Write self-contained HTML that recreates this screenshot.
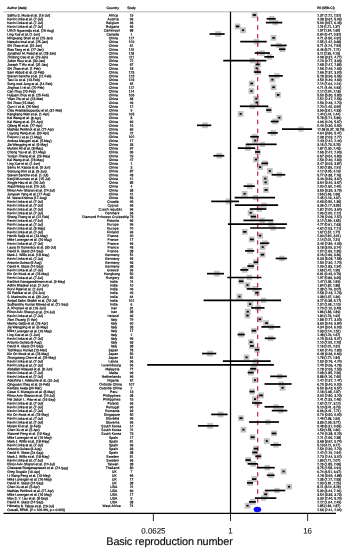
<!DOCTYPE html>
<html lang="en"><head><meta charset="utf-8"><title>Forest plot – Basic reproduction number</title>
<style>
html,body{margin:0;padding:0;background:#fff;}
body{width:346px;height:550px;overflow:hidden;}
svg{display:block;font-family:"Liberation Sans",Arial,Helvetica,sans-serif;text-rendering:geometricPrecision;}
.t{font-size:3.33px;fill:#111;stroke:#111;stroke-width:0.19px;}
.c{text-anchor:middle;}
.k{text-anchor:middle;letter-spacing:0.035em;}
.tk{font-size:7.9px;fill:#111;text-anchor:middle;stroke:#111;stroke-width:0.1px;}
.ttl{font-size:10.85px;fill:#111;stroke:#111;stroke-width:0.18px;}
.ci{stroke:#000;stroke-width:1.7;}
.bx{fill:#c2c2c2;}
</style></head><body>
<svg width="346" height="550" viewBox="0 0 346 550">
<rect width="346" height="550" fill="#fff"/>
<g class="t" transform="rotate(0.06)">
<text x="7.31" y="9.09">Author (date)</text>
<text class="k" x="112.79" y="8.98">Country</text>
<text class="c" x="131.51" y="8.96">Study</text>
<text x="317.31" y="8.77" textLength="17.3">R0 (95% CI)</text>
</g>
<line x1="3.5" x2="336" y1="11.8" y2="11.8" stroke="#9e9e9e" stroke-width="0.75"/>
<g class="bx">
<rect x="251.62" y="12.12" width="5.76" height="5.76"/>
<rect x="268.79" y="16.01" width="5.58" height="5.58"/>
<rect x="272.59" y="19.93" width="5.36" height="5.36"/>
<rect x="234.7" y="23.52" width="5.78" height="5.78"/>
<rect x="240.15" y="27.32" width="5.79" height="5.79"/>
<rect x="215.21" y="31.15" width="5.75" height="5.75"/>
<rect x="270.74" y="34.96" width="5.74" height="5.74"/>
<rect x="253.81" y="38.9" width="5.45" height="5.45"/>
<rect x="276.31" y="42.78" width="5.29" height="5.29"/>
<rect x="279.61" y="46.45" width="5.57" height="5.57"/>
<rect x="259.29" y="50.27" width="5.53" height="5.53"/>
<rect x="266.82" y="54.05" width="5.59" height="5.59"/>
<rect x="249.75" y="57.97" width="5.36" height="5.36"/>
<rect x="255.05" y="61.58" width="5.74" height="5.74"/>
<rect x="253.76" y="65.37" width="5.78" height="5.78"/>
<rect x="254.86" y="69.21" width="5.7" height="5.7"/>
<rect x="274.08" y="73.16" width="5.4" height="5.4"/>
<rect x="269.45" y="76.78" width="5.77" height="5.77"/>
<rect x="248.78" y="80.59" width="5.77" height="5.77"/>
<rect x="270.74" y="84.41" width="5.73" height="5.73"/>
<rect x="248.51" y="88.19" width="5.78" height="5.78"/>
<rect x="275.06" y="92.02" width="5.72" height="5.72"/>
<rect x="253.32" y="95.79" width="5.79" height="5.79"/>
<rect x="253.76" y="99.61" width="5.76" height="5.76"/>
<rect x="249.72" y="103.59" width="5.42" height="5.42"/>
<rect x="266.15" y="107.26" width="5.69" height="5.69"/>
<rect x="237.74" y="111" width="5.8" height="5.8"/>
<rect x="276.41" y="114.82" width="5.77" height="5.77"/>
<rect x="272.25" y="118.72" width="5.58" height="5.58"/>
<rect x="202.13" y="122.43" width="5.77" height="5.77"/>
<rect x="298.33" y="126.52" width="5.2" height="5.2"/>
<rect x="270.42" y="130.15" width="5.54" height="5.54"/>
<rect x="251.78" y="133.88" width="5.69" height="5.69"/>
<rect x="252.3" y="137.63" width="5.8" height="5.8"/>
<rect x="259.87" y="141.71" width="5.26" height="5.26"/>
<rect x="245.1" y="145.33" width="5.63" height="5.63"/>
<rect x="254.85" y="149.08" width="5.73" height="5.73"/>
<rect x="216.48" y="152.87" width="5.76" height="5.76"/>
<rect x="253.1" y="156.67" width="5.77" height="5.77"/>
<rect x="262.27" y="160.52" width="5.67" height="5.67"/>
<rect x="257.22" y="164.26" width="5.8" height="5.8"/>
<rect x="266.99" y="168.07" width="5.78" height="5.78"/>
<rect x="276.56" y="172.08" width="5.37" height="5.37"/>
<rect x="262.38" y="175.69" width="5.76" height="5.76"/>
<rect x="262.78" y="179.5" width="5.76" height="5.76"/>
<rect x="246.94" y="183.34" width="5.68" height="5.68"/>
<rect x="263.18" y="187.11" width="5.74" height="5.74"/>
<rect x="241.7" y="190.89" width="5.8" height="5.8"/>
<rect x="252.82" y="194.98" width="5.22" height="5.22"/>
<rect x="225.65" y="198.56" width="5.67" height="5.67"/>
<rect x="261.61" y="202.6" width="5.2" height="5.2"/>
<rect x="256.56" y="206.23" width="5.55" height="5.55"/>
<rect x="247.71" y="209.92" width="5.78" height="5.78"/>
<rect x="250.56" y="213.75" width="5.73" height="5.73"/>
<rect x="259.48" y="217.75" width="5.33" height="5.33"/>
<rect x="268.28" y="221.62" width="5.2" height="5.2"/>
<rect x="270.47" y="225.42" width="5.2" height="5.2"/>
<rect x="241.88" y="228.94" width="5.77" height="5.77"/>
<rect x="257.23" y="232.75" width="5.77" height="5.77"/>
<rect x="248.78" y="236.56" width="5.75" height="5.75"/>
<rect x="262.21" y="240.43" width="5.63" height="5.63"/>
<rect x="259.79" y="244.16" width="5.78" height="5.78"/>
<rect x="247.21" y="248" width="5.7" height="5.7"/>
<rect x="259.63" y="251.78" width="5.74" height="5.74"/>
<rect x="279.12" y="255.75" width="5.42" height="5.42"/>
<rect x="253.12" y="259.39" width="5.74" height="5.74"/>
<rect x="248.14" y="263.2" width="5.72" height="5.72"/>
<rect x="241.73" y="267" width="5.73" height="5.73"/>
<rect x="213.88" y="270.8" width="5.74" height="5.74"/>
<rect x="246.62" y="274.74" width="5.47" height="5.47"/>
<rect x="238.33" y="278.4" width="5.76" height="5.76"/>
<rect x="244.56" y="282.19" width="5.79" height="5.79"/>
<rect x="251.82" y="286.09" width="5.6" height="5.6"/>
<rect x="253.99" y="289.81" width="5.75" height="5.75"/>
<rect x="236.56" y="293.6" width="5.8" height="5.8"/>
<rect x="260.86" y="297.7" width="5.2" height="5.2"/>
<rect x="247.17" y="301.22" width="5.78" height="5.78"/>
<rect x="255.33" y="305.11" width="5.6" height="5.6"/>
<rect x="244.87" y="308.82" width="5.79" height="5.79"/>
<rect x="244.57" y="312.63" width="5.78" height="5.78"/>
<rect x="257.04" y="316.44" width="5.76" height="5.76"/>
<rect x="263.26" y="320.25" width="5.75" height="5.75"/>
<rect x="268.66" y="324.25" width="5.35" height="5.35"/>
<rect x="251.16" y="327.86" width="5.74" height="5.74"/>
<rect x="238.53" y="331.67" width="5.74" height="5.74"/>
<rect x="267.97" y="335.57" width="5.55" height="5.55"/>
<rect x="248.25" y="339.26" width="5.77" height="5.77"/>
<rect x="249.04" y="343.07" width="5.75" height="5.75"/>
<rect x="254.21" y="346.88" width="5.74" height="5.74"/>
<rect x="207.2" y="350.67" width="5.76" height="5.76"/>
<rect x="243.65" y="354.47" width="5.78" height="5.78"/>
<rect x="253.35" y="358.53" width="5.27" height="5.27"/>
<rect x="252.25" y="362.37" width="5.2" height="5.2"/>
<rect x="250.56" y="365.91" width="5.72" height="5.72"/>
<rect x="248.01" y="369.71" width="5.73" height="5.73"/>
<rect x="277.14" y="373.74" width="5.27" height="5.27"/>
<rect x="252.19" y="377.29" width="5.78" height="5.78"/>
<rect x="278.65" y="381.39" width="5.2" height="5.2"/>
<rect x="279.68" y="384.9" width="5.78" height="5.78"/>
<rect x="249.31" y="388.73" width="5.74" height="5.74"/>
<rect x="258.19" y="392.53" width="5.74" height="5.74"/>
<rect x="252.08" y="396.32" width="5.78" height="5.78"/>
<rect x="254.46" y="400.18" width="5.65" height="5.65"/>
<rect x="273.18" y="404.17" width="5.28" height="5.28"/>
<rect x="277.97" y="407.97" width="5.29" height="5.29"/>
<rect x="217.71" y="411.55" width="5.74" height="5.74"/>
<rect x="238.14" y="415.34" width="5.78" height="5.78"/>
<rect x="265.24" y="419.42" width="5.22" height="5.22"/>
<rect x="207.21" y="422.96" width="5.75" height="5.75"/>
<rect x="240.5" y="426.74" width="5.8" height="5.8"/>
<rect x="271.24" y="430.6" width="5.67" height="5.67"/>
<rect x="249.68" y="434.37" width="5.75" height="5.75"/>
<rect x="263.85" y="438.16" width="5.78" height="5.78"/>
<rect x="273.07" y="442.1" width="5.5" height="5.5"/>
<rect x="253.12" y="445.79" width="5.74" height="5.74"/>
<rect x="252.22" y="449.59" width="5.73" height="5.73"/>
<rect x="255.58" y="453.41" width="5.71" height="5.71"/>
<rect x="245.33" y="457.2" width="5.74" height="5.74"/>
<rect x="250.34" y="461.03" width="5.68" height="5.68"/>
<rect x="264.54" y="464.95" width="5.44" height="5.44"/>
<rect x="280.71" y="468.62" width="5.73" height="5.73"/>
<rect x="268.13" y="472.48" width="5.62" height="5.62"/>
<rect x="251.39" y="476.22" width="5.74" height="5.74"/>
<rect x="247.33" y="480.03" width="5.73" height="5.73"/>
<rect x="286.17" y="483.81" width="5.78" height="5.78"/>
<rect x="274.27" y="487.88" width="5.23" height="5.23"/>
<rect x="262.79" y="491.43" width="5.74" height="5.74"/>
<rect x="261.02" y="495.42" width="5.37" height="5.37"/>
<rect x="249.82" y="499.05" width="5.72" height="5.72"/>
<rect x="244.71" y="502.82" width="5.8" height="5.8"/>
</g>
<line x1="230.5" x2="230.5" y1="11.8" y2="513" stroke="#000" stroke-width="1.25"/>
<line x1="257.7" x2="257.7" y1="16.73" y2="502.4" stroke="#c01c38" stroke-width="1.15" stroke-dasharray="4.45 4.143"/>
<g class="ci">
<line x1="252.68" x2="256.1" y1="15" y2="15"/>
<line x1="266.67" x2="275.76" y1="18.8" y2="18.8"/>
<line x1="265.9" x2="282.26" y1="22.61" y2="22.61"/>
<line x1="235.8" x2="239.26" y1="26.41" y2="26.41"/>
<line x1="242.05" x2="244.05" y1="30.22" y2="30.22"/>
<line x1="209.5" x2="224.64" y1="34.02" y2="34.02"/>
<line x1="272.34" x2="274.82" y1="37.82" y2="37.82"/>
<line x1="240.25" x2="266.74" y1="41.63" y2="41.63"/>
<line x1="270.68" x2="286.69" y1="45.43" y2="45.43"/>
<line x1="278.96" x2="285.45" y1="49.24" y2="49.24"/>
<line x1="254.74" x2="269.95" y1="53.04" y2="53.04"/>
<line x1="264.29" x2="273.96" y1="56.84" y2="56.84"/>
<line x1="223.23" x2="266.36" y1="60.65" y2="60.65"/>
<line x1="255.65" x2="259.73" y1="64.45" y2="64.45"/>
<line x1="255.65" x2="257.65" y1="68.26" y2="68.26"/>
<line x1="253.91" x2="261.06" y1="72.06" y2="72.06"/>
<line x1="268.78" x2="282.82" y1="75.86" y2="75.86"/>
<line x1="271.34" x2="273.34" y1="79.67" y2="79.67"/>
<line x1="250.33" x2="252.93" y1="83.47" y2="83.47"/>
<line x1="272.27" x2="274.87" y1="87.28" y2="87.28"/>
<line x1="250.4" x2="252.4" y1="91.08" y2="91.08"/>
<line x1="276.89" x2="279.4" y1="94.88" y2="94.88"/>
<line x1="255.21" x2="257.21" y1="98.69" y2="98.69"/>
<line x1="255.54" x2="258.13" y1="102.49" y2="102.49"/>
<line x1="239.86" x2="268.36" y1="106.3" y2="106.3"/>
<line x1="266.21" x2="271.26" y1="110.1" y2="110.1"/>
<line x1="239.64" x2="241.64" y1="113.9" y2="113.9"/>
<line x1="278.3" x2="280.3" y1="117.71" y2="117.71"/>
<line x1="270.81" x2="278.76" y1="121.51" y2="121.51"/>
<line x1="197.01" x2="211.22" y1="125.32" y2="125.32"/>
<line x1="282" x2="312.09" y1="129.12" y2="129.12"/>
<line x1="267.63" x2="277.77" y1="132.92" y2="132.92"/>
<line x1="250.19" x2="258.84" y1="136.73" y2="136.73"/>
<line x1="254.2" x2="256.2" y1="140.53" y2="140.53"/>
<line x1="245.75" x2="276.62" y1="144.34" y2="144.34"/>
<line x1="237.8" x2="255.2" y1="148.14" y2="148.14"/>
<line x1="255.08" x2="260.12" y1="151.94" y2="151.94"/>
<line x1="213.36" x2="224.29" y1="155.75" y2="155.75"/>
<line x1="254.85" x2="257.08" y1="159.55" y2="159.55"/>
<line x1="261.33" x2="268.14" y1="163.36" y2="163.36"/>
<line x1="259.12" x2="261.12" y1="167.16" y2="167.16"/>
<line x1="268.88" x2="270.88" y1="170.96" y2="170.96"/>
<line x1="271.58" x2="285.25" y1="174.77" y2="174.77"/>
<line x1="264.27" x2="266.27" y1="178.57" y2="178.57"/>
<line x1="264.54" x2="266.67" y1="182.38" y2="182.38"/>
<line x1="243.57" x2="254.85" y1="186.18" y2="186.18"/>
<line x1="264.46" x2="267.56" y1="189.98" y2="189.98"/>
<line x1="243.6" x2="245.6" y1="193.79" y2="193.79"/>
<line x1="234.63" x2="275.1" y1="197.59" y2="197.59"/>
<line x1="211.22" x2="239.05" y1="201.4" y2="201.4"/>
<line x1="234.87" x2="278.17" y1="205.2" y2="205.2"/>
<line x1="249.78" x2="266.44" y1="209" y2="209"/>
<line x1="249.6" x2="251.6" y1="212.81" y2="212.81"/>
<line x1="250.6" x2="256.21" y1="216.61" y2="216.61"/>
<line x1="243.4" x2="273.25" y1="220.42" y2="220.42"/>
<line x1="227.88" x2="287.02" y1="224.22" y2="224.22"/>
<line x1="250.19" x2="285.45" y1="228.02" y2="228.02"/>
<line x1="243.05" x2="246.38" y1="231.83" y2="231.83"/>
<line x1="259.12" x2="261.12" y1="235.63" y2="235.63"/>
<line x1="249.92" x2="253.79" y1="239.44" y2="239.44"/>
<line x1="260.02" x2="269.27" y1="243.24" y2="243.24"/>
<line x1="261.68" x2="263.68" y1="247.04" y2="247.04"/>
<line x1="245.1" x2="254.27" y1="250.85" y2="250.85"/>
<line x1="260.68" x2="264.21" y1="254.65" y2="254.65"/>
<line x1="275.71" x2="286.84" y1="258.46" y2="258.46"/>
<line x1="253.67" x2="258.13" y1="262.26" y2="262.26"/>
<line x1="247.31" x2="254.15" y1="266.06" y2="266.06"/>
<line x1="240.25" x2="248.35" y1="269.87" y2="269.87"/>
<line x1="207.02" x2="223.94" y1="273.67" y2="273.67"/>
<line x1="227.26" x2="261.52" y1="277.48" y2="277.48"/>
<line x1="238.85" x2="243.4" y1="281.28" y2="281.28"/>
<line x1="246.46" x2="248.46" y1="285.08" y2="285.08"/>
<line x1="246.69" x2="261.7" y1="288.89" y2="288.89"/>
<line x1="255.2" x2="258.43" y1="292.69" y2="292.69"/>
<line x1="238.46" x2="240.46" y1="296.5" y2="296.5"/>
<line x1="203.59" x2="281.12" y1="300.3" y2="300.3"/>
<line x1="249.08" x2="251.14" y1="304.1" y2="304.1"/>
<line x1="251.14" x2="264.54" y1="307.91" y2="307.91"/>
<line x1="246.76" x2="248.76" y1="311.71" y2="311.71"/>
<line x1="246.22" x2="248.64" y1="315.52" y2="315.52"/>
<line x1="258.84" x2="261.06" y1="319.32" y2="319.32"/>
<line x1="265.27" x2="267.92" y1="323.12" y2="323.12"/>
<line x1="261.43" x2="280.34" y1="326.93" y2="326.93"/>
<line x1="251.66" x2="256.1" y1="330.73" y2="330.73"/>
<line x1="237.58" x2="244.76" y1="334.54" y2="334.54"/>
<line x1="264.78" x2="275.65" y1="338.34" y2="338.34"/>
<line x1="249.78" x2="252.43" y1="342.14" y2="342.14"/>
<line x1="249.92" x2="253.79" y1="345.95" y2="345.95"/>
<line x1="254.85" x2="259.14" y1="349.75" y2="349.75"/>
<line x1="202.08" x2="216.29" y1="353.56" y2="353.56"/>
<line x1="245.54" x2="247.54" y1="357.36" y2="357.36"/>
<line x1="222.87" x2="270.68" y1="361.16" y2="361.16"/>
<line x1="147.17" x2="273.84" y1="364.97" y2="364.97"/>
<line x1="250.19" x2="256.32" y1="368.77" y2="368.77"/>
<line x1="247.61" x2="253.67" y1="372.58" y2="372.58"/>
<line x1="270.15" x2="286.91" y1="376.38" y2="376.38"/>
<line x1="254.08" x2="256.08" y1="380.18" y2="380.18"/>
<line x1="264.54" x2="291.62" y1="383.99" y2="383.99"/>
<line x1="281.56" x2="283.56" y1="387.79" y2="387.79"/>
<line x1="249.5" x2="254.5" y1="391.6" y2="391.6"/>
<line x1="259.14" x2="262.85" y1="395.4" y2="395.4"/>
<line x1="253.97" x2="255.97" y1="399.2" y2="399.2"/>
<line x1="252.05" x2="262.15" y1="403.01" y2="403.01"/>
<line x1="264.62" x2="283.78" y1="406.81" y2="406.81"/>
<line x1="271.77" x2="287.31" y1="410.62" y2="410.62"/>
<line x1="211.22" x2="227.57" y1="414.42" y2="414.42"/>
<line x1="239.46" x2="242.51" y1="418.22" y2="418.22"/>
<line x1="249.08" x2="278.96" y1="422.03" y2="422.03"/>
<line x1="197.92" x2="218.52" y1="425.83" y2="425.83"/>
<line x1="242.4" x2="244.4" y1="429.64" y2="429.64"/>
<line x1="271.58" x2="276.36" y1="433.44" y2="433.44"/>
<line x1="250.6" x2="254.62" y1="437.24" y2="437.24"/>
<line x1="265.74" x2="267.74" y1="441.05" y2="441.05"/>
<line x1="270.48" x2="281.12" y1="444.85" y2="444.85"/>
<line x1="253.67" x2="258.13" y1="448.66" y2="448.66"/>
<line x1="252.3" x2="257.5" y1="452.46" y2="452.46"/>
<line x1="255.31" x2="261.24" y1="456.26" y2="456.26"/>
<line x1="245.42" x2="250.74" y1="460.07" y2="460.07"/>
<line x1="247.61" x2="257.71" y1="463.87" y2="463.87"/>
<line x1="256.86" x2="274.76" y1="467.68" y2="467.68"/>
<line x1="282.57" x2="284.57" y1="471.48" y2="471.48"/>
<line x1="266.82" x2="274.59" y1="475.28" y2="475.28"/>
<line x1="252.05" x2="256.32" y1="479.09" y2="479.09"/>
<line x1="247" x2="253.06" y1="482.89" y2="482.89"/>
<line x1="288.06" x2="290.06" y1="486.7" y2="486.7"/>
<line x1="264.86" x2="285.25" y1="490.5" y2="490.5"/>
<line x1="264.21" x2="267.12" y1="494.3" y2="494.3"/>
<line x1="254.85" x2="276.36" y1="498.11" y2="498.11"/>
<line x1="248.93" x2="255.88" y1="501.91" y2="501.91"/>
<line x1="246.61" x2="248.61" y1="505.72" y2="505.72"/>
</g>
<ellipse cx="257.4" cy="509.5" rx="3.85" ry="2.75" fill="#1010ff"/>
<g class="t" transform="rotate(0.06)">
<text x="7.32" y="16.39">Salihu S. Musa et al. (16-Jul)</text>
<text class="k" x="113.50" y="16.28">Africa</text>
<text class="c" x="131.52" y="16.26">19</text>
<text x="317.32" y="16.07" textLength="23.94">2.37 (2.22, 2.51)</text>
<text x="7.32" y="20.20">Kevin Linka et al. (7-Jul)</text>
<text class="k" x="113.09" y="20.09">Austria</text>
<text class="c" x="131.52" y="20.07">96</text>
<text x="317.32" y="19.87">4.38 (3.67, 5.09)</text>
<text x="7.33" y="24.00">Kevin Linka et al. (7-Jul)</text>
<text class="k" x="112.72" y="23.89">Belgium</text>
<text class="c" x="131.53" y="23.87">96</text>
<text x="317.32" y="23.68">5.00 (3.57, 6.43)</text>
<text x="7.33" y="27.80">Kevin Linka et al. (7-Jul)</text>
<text class="k" x="112.68" y="27.69">Bulgaria</text>
<text class="c" x="131.53" y="27.67">96</text>
<text x="317.33" y="27.48" textLength="22.44">1.29 (1.21, 1.37)</text>
<text x="7.33" y="31.61">Ulrich Nguemdjo et al. (26-Aug)</text>
<text class="k" x="111.94" y="31.50">Cameroon</text>
<text class="c" x="131.53" y="31.48">88</text>
<text x="317.33" y="31.28" textLength="22.94">1.57 (1.54, 1.60)</text>
<text x="7.34" y="35.41">Ling Xue et al. (1-Jun)</text>
<text class="k" x="112.82" y="35.30">Canada</text>
<text class="c" x="131.54" y="35.28">1</text>
<text x="317.34" y="35.09" textLength="23.94">0.64 (0.47, 0.81)</text>
<text x="7.34" y="39.22">Mingwang Shen et al. (25-Jan)</text>
<text class="k" x="113.49" y="39.11">China</text>
<text class="c" x="131.54" y="39.09">117</text>
<text x="317.34" y="38.89" textLength="23.94">4.71 (4.50, 4.92)</text>
<text x="7.35" y="43.02">Natsuko Imai et al. (25-Jan)</text>
<text class="k" x="113.49" y="42.91">China</text>
<text class="c" x="131.54" y="42.89">120</text>
<text x="317.34" y="42.70" textLength="23.94">2.55 (1.42, 3.68)</text>
<text x="7.35" y="46.82">Shi Zhao et al. (31-Jan)</text>
<text class="k" x="113.49" y="46.71">China</text>
<text class="c" x="131.55" y="46.69">61</text>
<text x="317.35" y="46.50" textLength="23.94">5.71 (4.24, 7.54)</text>
<text x="7.35" y="50.63">Biao Tang et al. (27-Jan)</text>
<text class="k" x="113.50" y="50.52">China</text>
<text class="c" x="131.55" y="50.50">110</text>
<text x="317.35" y="50.30" textLength="23.44">6.46 (5.71, 7.21)</text>
<text x="7.36" y="54.43">Jonathan M. Read et al. (28-Jan)</text>
<text class="k" x="113.50" y="54.32">China</text>
<text class="c" x="131.56" y="54.30">118</text>
<text x="317.36" y="54.11" textLength="22.69">3.11 (2.39, 4.13)</text>
<text x="7.36" y="58.24">Zhidong Cao et al. (29-Jan)</text>
<text class="k" x="113.51" y="58.13">China</text>
<text class="c" x="131.56" y="58.11">111</text>
<text x="317.36" y="57.91">4.08 (3.37, 4.77)</text>
<text x="7.36" y="62.04">Julien Riou et al. (30-Jan)</text>
<text class="k" x="113.51" y="61.93">China</text>
<text class="c" x="131.56" y="61.91">72</text>
<text x="317.36" y="61.72">2.20 (0.77, 3.63)</text>
<text x="7.37" y="65.84">Joseph T Wu et al. (31-Jan)</text>
<text class="k" x="113.51" y="65.73">China</text>
<text class="c" x="131.57" y="65.71">67</text>
<text x="317.37" y="65.52">2.68 (2.47, 2.86)</text>
<text x="7.37" y="69.65">Shi Zhao et al. (1-Feb)</text>
<text class="k" x="113.52" y="69.54">China</text>
<text class="c" x="131.57" y="69.52">18</text>
<text x="317.37" y="69.32">2.56 (2.49, 2.63)</text>
<text x="7.38" y="73.45">Sam Abbott et al. (3-Feb)</text>
<text class="k" x="113.52" y="73.34">China</text>
<text class="c" x="131.58" y="73.32">125</text>
<text x="317.38" y="73.13">2.66 (2.32, 3.00)</text>
<text x="7.38" y="77.26">Steven Sanche et al. (11-Feb)</text>
<text class="k" x="113.53" y="77.15">China</text>
<text class="c" x="131.58" y="77.13">123</text>
<text x="317.38" y="76.93">5.28 (3.96, 6.56)</text>
<text x="7.38" y="81.06">Tao Liu et al. (13-Feb)</text>
<text class="k" x="113.53" y="80.95">China</text>
<text class="c" x="131.58" y="80.93">126</text>
<text x="317.38" y="80.74">4.50 (4.40, 4.60)</text>
<text x="7.39" y="84.86">Sung-mok Jung et al. (14-Feb)</text>
<text class="k" x="113.53" y="84.75">China</text>
<text class="c" x="131.59" y="84.73">64</text>
<text x="317.39" y="84.54" textLength="23.94">2.14 (2.04, 2.24)</text>
<text x="7.39" y="88.67">Jinghua Li et al. (20-Feb)</text>
<text class="k" x="113.54" y="88.56">China</text>
<text class="c" x="131.59" y="88.54">112</text>
<text x="317.39" y="88.34" textLength="23.94">4.71 (4.49, 4.93)</text>
<text x="7.40" y="92.47">Can Zhou (20-Feb)</text>
<text class="k" x="113.54" y="92.36">China</text>
<text class="c" x="131.60" y="92.34">114</text>
<text x="317.40" y="92.15" textLength="23.44">2.12 (2.04, 2.18)</text>
<text x="7.40" y="96.28">Huijuan Zhou et al. (25-Feb)</text>
<text class="k" x="113.55" y="96.17">China</text>
<text class="c" x="131.60" y="96.15">106</text>
<text x="317.40" y="95.95">5.50 (5.30, 5.80)</text>
<text x="7.40" y="100.08">Yifan Zhu et al. (23-Mar)</text>
<text class="k" x="113.55" y="99.97">China</text>
<text class="c" x="131.60" y="99.95">68</text>
<text x="317.40" y="99.76">2.52 (2.47, 2.56)</text>
<text x="7.41" y="103.88">Shi Zhao (15-Mar)</text>
<text class="k" x="113.55" y="103.77">China</text>
<text class="c" x="131.61" y="103.75">49</text>
<text x="317.41" y="103.56">2.56 (2.46, 2.70)</text>
<text x="7.41" y="107.69">Qun Li et al. (26-Mar)</text>
<text class="k" x="113.56" y="107.58">China</text>
<text class="c" x="131.61" y="107.56">12</text>
<text x="317.41" y="107.36" textLength="23.94">2.20 (1.40, 3.90)</text>
<text x="7.42" y="111.49">Cleo Anastassopoulou et al. (31-Mar)</text>
<text class="k" x="113.56" y="111.38">China</text>
<text class="c" x="131.62" y="111.36">9</text>
<text x="317.42" y="111.17" textLength="23.94">3.99 (3.61, 4.33)</text>
<text x="7.42" y="115.30">Kangkang Wan et al. (1-Apr)</text>
<text class="k" x="113.57" y="115.19">China</text>
<text class="c" x="131.62" y="115.17">105</text>
<text x="317.42" y="114.97" textLength="22.94">1.44 (1.44, 1.44)</text>
<text x="7.42" y="119.10">Kai Wang et al. (8-Apr)</text>
<text class="k" x="113.57" y="118.99">China</text>
<text class="c" x="131.62" y="118.97">8</text>
<text x="317.42" y="118.78" textLength="23.94">5.78 (5.71, 5.89)</text>
<text x="7.43" y="122.90">Kai Wang et al. (21-Apr)</text>
<text class="k" x="113.57" y="122.79">China</text>
<text class="c" x="131.63" y="122.77">60</text>
<text x="317.43" y="122.58">4.96 (4.26, 5.67)</text>
<text x="7.43" y="126.71">Qifang Bi et al. (27-Apr)</text>
<text class="k" x="113.58" y="126.60">China</text>
<text class="c" x="131.63" y="126.58">16</text>
<text x="317.43" y="126.38">0.40 (0.30, 0.50)</text>
<text x="7.44" y="130.51">Mathias Peirlinck et al. (27-Apr)</text>
<text class="k" x="113.58" y="130.40">China</text>
<text class="c" x="131.64" y="130.38">69</text>
<text x="317.44" y="130.19" textLength="27.14">12.58 (6.37, 18.79)</text>
<text x="7.44" y="134.32">Liuyong Pang et al. (30-Apr)</text>
<text class="k" x="113.59" y="134.21">China</text>
<text class="c" x="131.64" y="134.19">22</text>
<text x="317.44" y="133.99">4.64 (3.80, 5.47)</text>
<text x="7.44" y="138.12">Ruiyun Li et al. (1-May)</text>
<text class="k" x="113.59" y="138.01">China</text>
<text class="c" x="131.64" y="137.99">102</text>
<text x="317.44" y="137.80">2.38 (2.03, 2.77)</text>
<text x="7.45" y="141.92">Andrea Maugeri et al. (5-May)</text>
<text class="k" x="113.59" y="141.81">China</text>
<text class="c" x="131.65" y="141.79">17</text>
<text x="317.45" y="141.60">2.43 (2.42, 2.44)</text>
<text x="7.45" y="145.73">Jia Wangping et al. (6-May)</text>
<text class="k" x="113.60" y="145.62">China</text>
<text class="c" x="131.65" y="145.60">33</text>
<text x="317.45" y="145.40" textLength="23.44">3.16 (1.73, 5.25)</text>
<text x="7.46" y="149.53">Muhsin Ali et al. (8-May)</text>
<text class="k" x="113.60" y="149.42">China</text>
<text class="c" x="131.66" y="149.40">97</text>
<text x="317.46" y="149.21" textLength="23.44">1.87 (1.30, 2.43)</text>
<text x="7.46" y="153.34">Chong You et al. (11-May)</text>
<text class="k" x="113.61" y="153.23">China</text>
<text class="c" x="131.66" y="153.21">36</text>
<text x="317.46" y="153.01">2.66 (2.42, 2.90)</text>
<text x="7.46" y="157.14">Yunjun Zhang et al. (26-May)</text>
<text class="k" x="113.61" y="157.03">China</text>
<text class="c" x="131.66" y="157.01">29</text>
<text x="317.46" y="156.82">0.67 (0.54, 0.80)</text>
<text x="7.47" y="160.94">Kai Wang et al. (26-May)</text>
<text class="k" x="113.61" y="160.83">China</text>
<text class="c" x="131.67" y="160.81">47</text>
<text x="317.47" y="160.62">2.50 (2.40, 2.60)</text>
<text x="7.47" y="164.75">Ling Xue et al. (1-Jun)</text>
<text class="k" x="113.62" y="164.64">China</text>
<text class="c" x="131.67" y="164.62">1</text>
<text x="317.47" y="164.42">3.47 (3.03, 3.87)</text>
<text x="7.48" y="168.55">Semu M. Kassa et al. (5-Jun)</text>
<text class="k" x="113.62" y="168.44">China</text>
<text class="c" x="131.68" y="168.42">3</text>
<text x="317.48" y="168.23" textLength="23.94">2.90 (2.89, 2.91)</text>
<text x="7.48" y="172.36">Soyoung Kim et al. (5-Jun)</text>
<text class="k" x="113.63" y="172.25">China</text>
<text class="c" x="131.68" y="172.23">87</text>
<text x="317.48" y="172.03" textLength="23.44">4.12 (4.05, 4.19)</text>
<text x="7.48" y="176.16">Steven Sanche et al. (1-Jul)</text>
<text class="k" x="113.63" y="176.05">China</text>
<text class="c" x="131.68" y="176.03">48</text>
<text x="317.48" y="175.84" textLength="23.94">5.77 (4.38, 7.16)</text>
<text x="7.49" y="179.96">Kenji Mizumoto et al. (15-Jul)</text>
<text class="k" x="113.63" y="179.85">China</text>
<text class="c" x="131.69" y="179.83">11</text>
<text x="317.49" y="179.64">3.49 (3.39, 3.62)</text>
<text x="7.49" y="183.77">Xingjie Hao et al. (16-Jul)</text>
<text class="k" x="113.64" y="183.66">China</text>
<text class="c" x="131.69" y="183.64">85</text>
<text x="317.49" y="183.44">3.54 (3.40, 3.67)</text>
<text x="7.50" y="187.57">Xiaoli Wang et al. (20-Jul)</text>
<text class="k" x="113.64" y="187.46">China</text>
<text class="c" x="131.70" y="187.44">4</text>
<text x="317.50" y="187.25" textLength="23.94">2.00 (1.60, 2.40)</text>
<text x="7.50" y="191.38">Elinor Aviv-Sharon et al. (24-Jul)</text>
<text class="k" x="113.65" y="191.27">China</text>
<text class="c" x="131.70" y="191.25">38</text>
<text x="317.50" y="191.05">3.59 (3.39, 3.79)</text>
<text x="7.50" y="195.18">Junyuan Yang et al. (17-Aug)</text>
<text class="k" x="113.65" y="195.07">China</text>
<text class="c" x="131.70" y="195.05">41</text>
<text x="317.50" y="194.86" textLength="22.94">1.66 (1.66, 1.66)</text>
<text x="7.51" y="198.98">M. Veera Krishna (17-Aug)</text>
<text class="k" x="113.65" y="198.87">China</text>
<text class="c" x="131.71" y="198.85">56</text>
<text x="317.51" y="198.66" textLength="23.44">2.45 (1.16, 4.97)</text>
<text x="7.51" y="202.79">Kevin Linka et al. (7-Jul)</text>
<text class="k" x="113.20" y="202.68">Croatia</text>
<text class="c" x="131.71" y="202.66">96</text>
<text x="317.51" y="202.46" textLength="23.94">0.93 (0.50, 1.36)</text>
<text x="7.52" y="206.59">Kevin Linka et al. (7-Jul)</text>
<text class="k" x="113.25" y="206.48">Cyprus</text>
<text class="c" x="131.72" y="206.46">96</text>
<text x="317.52" y="206.27" textLength="23.44">3.36 (1.17, 5.55)</text>
<text x="7.52" y="210.40">Kevin Linka et al. (7-Jul)</text>
<text class="k" x="110.67" y="210.29">Czech republic</text>
<text class="c" x="131.72" y="210.27">96</text>
<text x="317.52" y="210.07">2.82 (2.00, 3.64)</text>
<text x="7.52" y="214.20">Kevin Linka et al. (7-Jul)</text>
<text class="k" x="112.59" y="214.09">Denmark</text>
<text class="c" x="131.72" y="214.07">96</text>
<text x="317.52" y="213.88" textLength="23.94">2.06 (2.00, 2.12)</text>
<text x="7.53" y="218.00">Sheng Zhang et al. (22-Feb)</text>
<text class="k" x="105.82" y="217.90">Diamond Princess Cruiseship</text>
<text class="c" x="131.73" y="217.87">73</text>
<text x="317.53" y="217.68">2.28 (2.06, 2.52)</text>
<text x="7.53" y="221.81">Kevin Linka et al. (7-Jul)</text>
<text class="k" x="113.14" y="221.70">Estonia</text>
<text class="c" x="131.73" y="221.68">96</text>
<text x="317.53" y="221.48" textLength="23.44">3.12 (1.59, 4.65)</text>
<text x="7.54" y="225.61">Kevin Linka et al. (7-Jul)</text>
<text class="k" x="113.22" y="225.50">Europe</text>
<text class="c" x="131.74" y="225.48">96</text>
<text x="317.54" y="225.29" textLength="23.94">4.27 (0.91, 7.63)</text>
<text x="7.54" y="229.42">Kevin Linka et al. (5-May)</text>
<text class="k" x="113.23" y="229.31">Europe</text>
<text class="c" x="131.74" y="229.29">70</text>
<text x="317.54" y="229.09" textLength="23.94">4.62 (2.03, 7.21)</text>
<text x="7.54" y="233.22">Kevin Linka et al. (7-Jul)</text>
<text class="k" x="113.19" y="233.11">Finland</text>
<text class="c" x="131.74" y="233.09">96</text>
<text x="317.54" y="232.90" textLength="22.94">1.67 (1.57, 1.77)</text>
<text x="7.55" y="237.02">Henrik Salje et al. (13-May)</text>
<text class="k" x="113.32" y="236.91">France</text>
<text class="c" x="131.75" y="236.89">40</text>
<text x="317.55" y="236.70" textLength="23.44">2.90 (2.81, 3.01)</text>
<text x="7.55" y="240.83">Mike Lonergan et al. (16-May)</text>
<text class="k" x="113.32" y="240.72">France</text>
<text class="c" x="131.75" y="240.70">17</text>
<text x="317.55" y="240.50" textLength="22.94">2.14 (2.01, 2.31)</text>
<text x="7.56" y="244.63">Kevin Linka et al. (7-Jul)</text>
<text class="k" x="113.33" y="244.52">France</text>
<text class="c" x="131.76" y="244.50">96</text>
<text x="317.56" y="244.31">3.46 (2.89, 4.03)</text>
<text x="7.56" y="248.44">Laura Di Domenico et al. (30-Jul)</text>
<text class="k" x="113.33" y="248.33">France</text>
<text class="c" x="131.76" y="248.31">45</text>
<text x="317.56" y="248.11" textLength="23.94">3.18 (3.09, 3.24)</text>
<text x="7.56" y="252.24">David H. Glass (24-Sep)</text>
<text class="k" x="113.34" y="252.13">France</text>
<text class="c" x="131.76" y="252.11">38</text>
<text x="317.56" y="251.92" textLength="23.94">2.02 (1.69, 2.35)</text>
<text x="7.57" y="256.04">Mark J. Willis et al. (18-May)</text>
<text class="k" x="112.59" y="255.93">Germany</text>
<text class="c" x="131.77" y="255.91">51</text>
<text x="317.57" y="255.72" textLength="23.94">3.16 (2.96, 3.36)</text>
<text x="7.57" y="259.85">Kevin Linka et al. (7-Jul)</text>
<text class="k" x="112.60" y="259.74">Germany</text>
<text class="c" x="131.77" y="259.72">96</text>
<text x="317.57" y="259.52">6.33 (5.08, 7.58)</text>
<text x="7.58" y="263.65">Antonio Guirao (6-Aug)</text>
<text class="k" x="112.60" y="263.54">Germany</text>
<text class="c" x="131.78" y="263.52">93</text>
<text x="317.58" y="263.33">2.50 (2.30, 2.70)</text>
<text x="7.58" y="267.46">David H. Glass (24-Sep)</text>
<text class="k" x="112.60" y="267.35">Germany</text>
<text class="c" x="131.78" y="267.33">38</text>
<text x="317.58" y="267.13" textLength="23.94">2.09 (1.83, 2.34)</text>
<text x="7.58" y="271.26">Kevin Linka et al. (7-Jul)</text>
<text class="k" x="113.23" y="271.15">Greece</text>
<text class="c" x="131.78" y="271.13">96</text>
<text x="317.58" y="270.94" textLength="22.94">1.66 (1.42, 1.90)</text>
<text x="7.59" y="275.06">Kin On Kwok et al. (23-May)</text>
<text class="k" x="112.28" y="274.95">Hongkong</text>
<text class="c" x="131.79" y="274.93">50</text>
<text x="317.59" y="274.74" textLength="23.94">0.61 (0.43, 0.79)</text>
<text x="7.59" y="278.87">Kevin Linka et al. (7-Jul)</text>
<text class="k" x="112.86" y="278.76">Hungary</text>
<text class="c" x="131.79" y="278.74">96</text>
<text x="317.59" y="278.54" textLength="23.94">1.97 (0.89, 3.05)</text>
<text x="7.60" y="282.67">Karthick Kanagarathinam et al. (9-May)</text>
<text class="k" x="114.07" y="282.56">India</text>
<text class="c" x="131.80" y="282.54">24</text>
<text x="317.60" y="282.35" textLength="22.94">1.47 (1.35, 1.59)</text>
<text x="7.60" y="286.48">Adhin Bhaskar et al. (2-Jun)</text>
<text class="k" x="114.08" y="286.36">India</text>
<text class="c" x="131.80" y="286.35">10</text>
<text x="317.60" y="286.15" textLength="22.94">1.84 (1.82, 1.86)</text>
<text x="7.60" y="290.28">Purvi Patel et al. (2-Jun)</text>
<text class="k" x="114.08" y="290.17">India</text>
<text class="c" x="131.80" y="290.15">46</text>
<text x="317.60" y="289.96" textLength="23.94">2.38 (1.79, 3.07)</text>
<text x="7.61" y="294.08">Sil Patrikar et al. (29-Jun)</text>
<text class="k" x="114.09" y="293.97">India</text>
<text class="c" x="131.81" y="293.95">49</text>
<text x="317.61" y="293.76">2.58 (2.43, 2.73)</text>
<text x="7.61" y="297.89">S. Marimuthu et al. (30-Jun)</text>
<text class="k" x="114.09" y="297.78">India</text>
<text class="c" x="131.81" y="297.76">64</text>
<text x="317.61" y="297.56" textLength="22.94">1.38 (1.37, 1.39)</text>
<text x="7.62" y="301.69">Amjad Salim Shaikh et al. (23-Jul)</text>
<text class="k" x="114.09" y="301.58">India</text>
<text class="c" x="131.82" y="301.56">101</text>
<text x="317.62" y="301.37" textLength="23.94">3.27 (0.38, 6.17)</text>
<text x="7.62" y="305.50">Sudhanshu Kumar Biswas et al. (21-Sep)</text>
<text class="k" x="114.10" y="305.38">India</text>
<text class="c" x="131.82" y="305.37">6</text>
<text x="317.62" y="305.17" textLength="23.44">2.02 (1.95, 2.10)</text>
<text x="7.62" y="309.30">A. Khosravi et al. (16-Jun)</text>
<text class="k" x="114.43" y="309.19">Iran</text>
<text class="c" x="131.82" y="309.17">31</text>
<text x="317.62" y="308.98" textLength="23.94">2.70 (2.10, 3.40)</text>
<text x="7.63" y="313.10">Elinor Aviv-Sharon et al. (24-Jul)</text>
<text class="k" x="114.44" y="312.99">Iran</text>
<text class="c" x="131.83" y="312.97">38</text>
<text x="317.63" y="312.78" textLength="22.94">1.86 (1.83, 1.89)</text>
<text x="7.63" y="316.91">Kevin Linka et al. (7-Jul)</text>
<text class="k" x="113.44" y="316.80">Ireland</text>
<text class="c" x="131.83" y="316.78">96</text>
<text x="317.63" y="316.58" textLength="22.94">1.84 (1.76, 1.92)</text>
<text x="7.64" y="320.71">Zian Zhuang (1-Apr)</text>
<text class="k" x="114.36" y="320.60">Italy</text>
<text class="c" x="131.84" y="320.58">79</text>
<text x="317.64" y="320.39">2.88 (2.77, 3.00)</text>
<text x="7.64" y="324.52">Marino Gatto et al. (23-Apr)</text>
<text class="k" x="114.37" y="324.40">Italy</text>
<text class="c" x="131.84" y="324.39">90</text>
<text x="317.64" y="324.19">3.60 (3.49, 3.84)</text>
<text x="7.64" y="328.32">Jia Wangping et al. (6-May)</text>
<text class="k" x="114.37" y="328.21">Italy</text>
<text class="c" x="131.84" y="328.19">33</text>
<text x="317.64" y="328.00">4.34 (3.04, 6.00)</text>
<text x="7.65" y="332.12">Mike Lonergan et al. (16-May)</text>
<text class="k" x="114.38" y="332.01">Italy</text>
<text class="c" x="131.85" y="331.99">17</text>
<text x="317.65" y="331.80" textLength="23.44">2.33 (2.14, 2.51)</text>
<text x="7.65" y="335.93">Ling Xue et al. (1-Jun)</text>
<text class="k" x="114.38" y="335.82">Italy</text>
<text class="c" x="131.85" y="335.80">1</text>
<text x="317.65" y="335.60" textLength="22.94">1.48 (1.29, 1.67)</text>
<text x="7.66" y="339.73">Kevin Linka et al. (7-Jul)</text>
<text class="k" x="114.38" y="339.62">Italy</text>
<text class="c" x="131.86" y="339.60">96</text>
<text x="317.66" y="339.41">4.25 (3.43, 5.07)</text>
<text x="7.66" y="343.54">Antonio Guirao (6-Aug)</text>
<text class="k" x="114.39" y="343.42">Italy</text>
<text class="c" x="131.86" y="343.41">93</text>
<text x="317.66" y="343.21" textLength="23.94">2.10 (2.00, 2.20)</text>
<text x="7.66" y="347.34">David H. Glass (24-Sep)</text>
<text class="k" x="114.39" y="347.23">Italy</text>
<text class="c" x="131.86" y="347.21">38</text>
<text x="317.66" y="347.02" textLength="22.94">2.16 (2.01, 2.31)</text>
<text x="7.67" y="351.14">Toshikazu Kuniya (13-Mar)</text>
<text class="k" x="113.73" y="351.03">Japan</text>
<text class="c" x="131.87" y="351.01">78</text>
<text x="317.67" y="350.82">2.60 (2.40, 2.80)</text>
<text x="7.67" y="354.95">Kin On Kwok et al. (23-May)</text>
<text class="k" x="113.73" y="354.84">Japan</text>
<text class="c" x="131.87" y="354.82">50</text>
<text x="317.67" y="354.62">0.48 (0.36, 0.60)</text>
<text x="7.68" y="358.75">Zhongxiang Chen et al. (29-May)</text>
<text class="k" x="113.74" y="358.64">Japan</text>
<text class="c" x="131.88" y="358.62">54</text>
<text x="317.68" y="358.43" textLength="22.94">1.78 (1.72, 1.84)</text>
<text x="7.68" y="362.56">Kevin Linka et al. (7-Jul)</text>
<text class="k" x="113.78" y="362.45">Latvia</text>
<text class="c" x="131.88" y="362.43">96</text>
<text x="317.68" y="362.23">2.50 (0.76, 4.24)</text>
<text x="7.68" y="366.36">Kevin Linka et al. (7-Jul)</text>
<text class="k" x="111.62" y="366.25">Luxembourg</text>
<text class="c" x="131.88" y="366.23">96</text>
<text x="317.68" y="366.04">2.40 (0.05, 4.75)</text>
<text x="7.69" y="370.16">Abdallah Alsayed et al. (8-Jun)</text>
<text class="k" x="112.84" y="370.05">Malaysia</text>
<text class="c" x="131.89" y="370.03">77</text>
<text x="317.69" y="369.84">2.28 (2.03, 2.53)</text>
<text x="7.69" y="373.97">Kevin Linka et al. (7-Jul)</text>
<text class="k" x="113.96" y="373.86">Malta</text>
<text class="c" x="131.89" y="373.84">96</text>
<text x="317.69" y="373.64" textLength="23.94">2.08 (1.85, 2.30)</text>
<text x="7.70" y="377.77">Kevin Linka et al. (7-Jul)</text>
<text class="k" x="111.76" y="377.66">Netherlands</text>
<text class="c" x="131.90" y="377.64">96</text>
<text x="317.70" y="377.45" textLength="23.94">5.88 (4.16, 7.60)</text>
<text x="7.70" y="381.58">Adeshina I. Adekunle et al. (31-Jul)</text>
<text class="k" x="113.43" y="381.47">Nigeria</text>
<text class="c" x="131.90" y="381.45">62</text>
<text x="317.70" y="381.25">2.42 (2.37, 2.47)</text>
<text x="7.70" y="385.38">Qingyuan Zhao et al. (9-Feb)</text>
<text class="k" x="111.06" y="385.27">Outside China</text>
<text class="c" x="131.90" y="385.25">107</text>
<text x="317.70" y="385.06">6.20 (3.40, 9.00)</text>
<text x="7.71" y="389.18">Kentaro Iwata (30-Mar)</text>
<text class="k" x="111.07" y="389.08">Outside China</text>
<text class="c" x="131.91" y="389.05">2</text>
<text x="317.71" y="388.86">6.50 (6.43, 6.57)</text>
<text x="7.71" y="392.99">Cesar V. Munayco et al. (8-May)</text>
<text class="k" x="114.23" y="392.88">Peru</text>
<text class="c" x="131.91" y="392.86">13</text>
<text x="317.71" y="392.66" textLength="23.44">2.18 (1.98, 2.37)</text>
<text x="7.72" y="396.79">Elinor Aviv-Sharon et al. (24-Jul)</text>
<text class="k" x="112.20" y="396.68">Philippines</text>
<text class="c" x="131.92" y="396.66">38</text>
<text x="317.72" y="396.47">3.00 (2.80, 3.20)</text>
<text x="7.72" y="400.60">Nel Jason L. Haw et al. (15-Sep)</text>
<text class="k" x="112.20" y="400.49">Philippines</text>
<text class="c" x="131.92" y="400.47">15</text>
<text x="317.72" y="400.27" textLength="23.94">2.41 (2.33, 2.48)</text>
<text x="7.72" y="404.40">Kevin Linka et al. (7-Jul)</text>
<text class="k" x="113.49" y="404.29">Poland</text>
<text class="c" x="131.92" y="404.27">96</text>
<text x="317.72" y="404.08" textLength="23.44">2.62 (2.17, 3.12)</text>
<text x="7.73" y="408.20">Kevin Linka et al. (7-Jul)</text>
<text class="k" x="113.04" y="408.09">Portugal</text>
<text class="c" x="131.93" y="408.07">96</text>
<text x="317.73" y="407.88" textLength="23.44">5.10 (3.41, 6.79)</text>
<text x="7.73" y="412.01">Kevin Linka et al. (7-Jul)</text>
<text class="k" x="112.84" y="411.90">Romania</text>
<text class="c" x="131.93" y="411.88">96</text>
<text x="317.73" y="411.68" textLength="23.44">6.06 (4.41, 7.71)</text>
<text x="7.74" y="415.81">Kin On Kwok et al. (23-May)</text>
<text class="k" x="112.42" y="415.70">Singapore</text>
<text class="c" x="131.94" y="415.68">50</text>
<text x="317.74" y="415.49">0.70 (0.50, 0.90)</text>
<text x="7.74" y="419.62">Kevin Linka et al. (7-Jul)</text>
<text class="k" x="113.01" y="419.51">Slovakia</text>
<text class="c" x="131.94" y="419.49">96</text>
<text x="317.74" y="419.29" textLength="22.94">1.46 (1.38, 1.54)</text>
<text x="7.74" y="423.42">Kevin Linka et al. (7-Jul)</text>
<text class="k" x="112.97" y="423.31">Slovenia</text>
<text class="c" x="131.94" y="423.29">96</text>
<text x="317.74" y="423.10" textLength="23.44">3.83 (1.95, 5.71)</text>
<text x="7.75" y="427.22">Moran Ki et al. (9-Feb)</text>
<text class="k" x="111.69" y="427.12">South Korea</text>
<text class="c" x="131.95" y="427.09">14</text>
<text x="317.75" y="426.90" textLength="23.94">0.48 (0.31, 0.65)</text>
<text x="7.75" y="431.03">Chen Xu et al. (5-Apr)</text>
<text class="k" x="111.69" y="430.92">South Korea</text>
<text class="c" x="131.95" y="430.90">21</text>
<text x="317.75" y="430.70" textLength="22.94">1.59 (1.58, 1.60)</text>
<text x="7.76" y="434.83">Xiaomei Feng et al. (13-May)</text>
<text class="k" x="111.70" y="434.72">South Korea</text>
<text class="c" x="131.96" y="434.70">73</text>
<text x="317.76" y="434.51">4.79 (4.38, 5.20)</text>
<text x="7.76" y="438.64">Mike Lonergan et al. (16-May)</text>
<text class="k" x="113.95" y="438.52">Spain</text>
<text class="c" x="131.96" y="438.51">17</text>
<text x="317.76" y="438.31" textLength="23.94">2.21 (2.06, 2.38)</text>
<text x="7.76" y="442.44">Mark J. Willis et al. (18-May)</text>
<text class="k" x="113.95" y="442.33">Spain</text>
<text class="c" x="131.96" y="442.31">51</text>
<text x="317.76" y="442.12">3.68 (3.62, 3.74)</text>
<text x="7.77" y="446.24">Kevin Linka et al. (7-Jul)</text>
<text class="k" x="113.95" y="446.13">Spain</text>
<text class="c" x="131.97" y="446.11">96</text>
<text x="317.77" y="445.92" textLength="22.94">5.10 (4.21, 6.17)</text>
<text x="7.77" y="450.05">Antonio Guirao (6-Aug)</text>
<text class="k" x="113.96" y="449.94">Spain</text>
<text class="c" x="131.97" y="449.92">93</text>
<text x="317.77" y="449.72">2.50 (2.30, 2.70)</text>
<text x="7.78" y="453.85">David H. Glass (24-Sep)</text>
<text class="k" x="113.96" y="453.74">Spain</text>
<text class="c" x="131.98" y="453.72">38</text>
<text x="317.78" y="453.53" textLength="23.94">2.42 (2.19, 2.64)</text>
<text x="7.78" y="457.66">Mark J. Willis et al. (18-May)</text>
<text class="k" x="113.18" y="457.55">Sweden</text>
<text class="c" x="131.98" y="457.53">51</text>
<text x="317.78" y="457.33">2.73 (2.44, 3.02)</text>
<text x="7.78" y="461.46">Kevin Linka et al. (7-Jul)</text>
<text class="k" x="113.18" y="461.35">Sweden</text>
<text class="c" x="131.98" y="461.33">96</text>
<text x="317.78" y="461.14" textLength="22.94">1.89 (1.71, 2.07)</text>
<text x="7.79" y="465.26">Elinor Aviv-Sharon et al. (24-Jul)</text>
<text class="k" x="113.56" y="465.15">Taiwan</text>
<text class="c" x="131.99" y="465.13">38</text>
<text x="317.79" y="464.94" textLength="23.94">2.26 (1.85, 2.66)</text>
<text x="7.79" y="469.07">Chawarat Rotejanaprasert et al. (24-Sep)</text>
<text class="k" x="113.02" y="468.96">Thailand</text>
<text class="c" x="131.99" y="468.94">80</text>
<text x="317.79" y="468.74" textLength="23.94">3.75 (2.58, 4.91)</text>
<text x="7.80" y="472.87">Greg Dropkin (10-Apr)</text>
<text class="k" x="114.86" y="472.76">UK</text>
<text class="c" x="132.00" y="472.74">7</text>
<text x="317.80" y="472.55" textLength="23.94">6.74 (6.51, 6.97)</text>
<text x="7.80" y="476.68">Li-Xiang Feng et al. (13-May)</text>
<text class="k" x="114.86" y="476.56">UK</text>
<text class="c" x="132.00" y="476.55">66</text>
<text x="317.80" y="476.35">4.28 (3.69, 4.88)</text>
<text x="7.80" y="480.48">Mike Lonergan et al. (16-May)</text>
<text class="k" x="114.86" y="480.37">UK</text>
<text class="c" x="132.00" y="480.35">17</text>
<text x="317.80" y="480.16" textLength="23.94">2.35 (2.17, 2.53)</text>
<text x="7.81" y="484.28">David H. Glass (24-Sep)</text>
<text class="k" x="114.87" y="484.17">UK</text>
<text class="c" x="132.01" y="484.15">38</text>
<text x="317.81" y="483.96" textLength="23.44">2.03 (1.81, 2.25)</text>
<text x="7.81" y="488.09">Chen Xu et al. (5-Apr)</text>
<text class="k" x="114.37" y="487.98">USA</text>
<text class="c" x="132.01" y="487.96">21</text>
<text x="317.81" y="487.76" textLength="23.44">8.21 (8.14, 8.28)</text>
<text x="7.82" y="491.89">Mathias Peirlinck et al. (27-Apr)</text>
<text class="k" x="114.38" y="491.78">USA</text>
<text class="c" x="132.02" y="491.76">69</text>
<text x="317.81" y="491.57" textLength="23.94">5.30 (3.44, 7.16)</text>
<text x="7.82" y="495.70">Mike Lonergan et al. (16-May)</text>
<text class="k" x="114.38" y="495.58">USA</text>
<text class="c" x="132.02" y="495.57">17</text>
<text x="317.82" y="495.37">3.54 (3.36, 3.73)</text>
<text x="7.82" y="499.50">Max S. Y. Lau et al. (8-Sep)</text>
<text class="k" x="114.38" y="499.39">USA</text>
<text class="c" x="132.02" y="499.37">5</text>
<text x="317.82" y="499.18">3.30 (2.40, 5.20)</text>
<text x="7.83" y="503.30">David H. Glass (24-Sep)</text>
<text class="k" x="114.39" y="503.19">USA</text>
<text class="c" x="132.03" y="503.17">38</text>
<text x="317.83" y="502.98" textLength="23.94">2.22 (1.94, 2.49)</text>
<text x="7.83" y="507.11">Hémaho B. Taboe et al. (29-Jul)</text>
<text class="k" x="112.16" y="507.00">West Africa</text>
<text class="c" x="132.03" y="506.98">74</text>
<text x="317.83" y="506.78" textLength="22.94">1.85 (1.84, 1.87)</text>
<text x="7.84" y="510.91">Overall, REML (I² = 100.0%, p = 0.000)</text>
<text x="317.83" y="510.59">2.66 (2.41, 2.94)</text>
</g>
<line x1="3.5" x2="336" y1="513.4" y2="513.4" stroke="#000" stroke-width="1.1"/>
<line x1="153.38" x2="153.38" y1="513" y2="521" stroke="#000" stroke-width="0.85"/>
<text class="tk" transform="rotate(0.06)" x="153.94" y="533.34">0.0625</text>
<line x1="230.5" x2="230.5" y1="513" y2="521" stroke="#000" stroke-width="0.85"/>
<text class="tk" transform="rotate(0.06)" x="231.06" y="533.26">1</text>
<line x1="307.62" x2="307.62" y1="513" y2="521" stroke="#000" stroke-width="0.85"/>
<text class="tk" transform="rotate(0.06)" x="308.18" y="533.18">16</text>
<text class="ttl" transform="rotate(0.06)" x="106.87" y="544.79" textLength="126.5" lengthAdjust="spacing">Basic reproduction number</text>
</svg></body></html>
